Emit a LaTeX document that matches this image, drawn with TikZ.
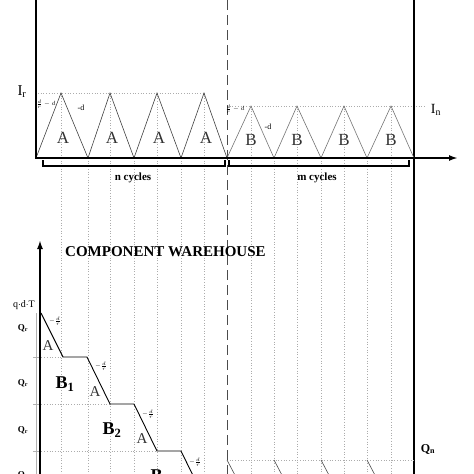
\documentclass[tikz,border=0pt]{standalone}
\usepackage{fontspec}
\setmainfont{Liberation Serif}
\usetikzlibrary{arrows.meta}

\tikzset{
    axisline/.style={line width=2.2pt},
    edge/.style={line width=0.6pt, black!75},
    gridline/.style={gray!65, dotted, line width=0.7pt},
    bracket/.style={line width=1.6pt},
    letter/.style={font=\fontsize{17}{17}\selectfont, black!80},
    bigletter/.style={font=\bfseries\fontsize{18}{18}\selectfont},
    rate/.style={font=\fontsize{6}{6}\selectfont, inner sep=0pt},
    level/.style={font=\bfseries\fontsize{9}{9}\selectfont, inner sep=0pt},
}

\begin{document}
\begin{tikzpicture}[x=1pt, y=-1pt]
    \useasboundingbox (0,0) rectangle (474,474);
    \clip (0,0) rectangle (474,474);

    % vertical guides under peaks and valleys
    \foreach \x in {61,110,157,204} {
        \draw[gridline] (\x,93) -- (\x,474);
    }
    \foreach \x in {251,297,344,391} {
        \draw[gridline] (\x,106) -- (\x,474);
    }
    \foreach \x in {88,134,181,274,321,367} {
        \draw[gridline] (\x,158) -- (\x,474);
    }
    \draw[gridline] (38,93) -- (204,93);
    \draw[gridline] (227,106) -- (425,106);

    % split between the two phases
    \draw[black!70, line width=0.9pt, dash pattern=on 10pt off 5pt] (227,0) -- (227,474);
    \draw[line width=1.2pt] (414,0) -- (414,474);

    % finished product cycles
    \foreach \a/\p/\b [count=\i] in {36/61/88, 88/110/134, 134/157/181, 181/204/227} {
        \draw[edge] (\a,158) -- (\p,93) -- (\b,158);
        \node[letter] (A\i) at (\p+2,138) {A};
    }
    \foreach \a/\p/\b [count=\i] in {227/251/274, 274/297/321, 321/344/367, 367/391/414} {
        \draw[edge, black!55] (\a,158) -- (\p,106) -- (\b,158);
        \node[letter] (B\i) at (\p,140) {B};
    }

    \draw[axisline] (36,0) -- (36,159);
    \draw[line width=2pt, -{Latex[length=9pt, width=6pt]}] (35,158) -- (458,158);

    \node[font=\fontsize{15}{15}\selectfont] (Ir) at (22,92) {I\textsubscript{r}};
    \node[font=\fontsize{14}{14}\selectfont] (In) at (436,110) {I\textsubscript{n}};
    \node[rate] (ra) at (46,104) {$\frac{d}{r}-d$};
    \node[rate, font=\fontsize{8}{8}\selectfont] (da) at (81,108) {-d};
    \node[rate] (rb) at (235,109) {$\frac{d}{r}-d$};
    \node[rate, font=\fontsize{8}{8}\selectfont] (db) at (268,127) {-d};

    % cycle counts
    \draw[bracket] (43,160) -- (43,166) -- (225,166) -- (225,160);
    \draw[bracket] (229,160) -- (229,166) -- (409,166) -- (409,160);
    \node[level, font=\bfseries\fontsize{11}{11}\selectfont] (ncyc) at (133,178) {n cycles};
    \node[level, font=\bfseries\fontsize{11}{11}\selectfont] (mcyc) at (317,178) {m cycles};

    % component warehouse
    \node[font=\bfseries\fontsize{15}{15}\selectfont, inner sep=0pt, anchor=west] (cw) at (65,252) {COMPONENT WAREHOUSE};

    \draw[gray!60, line width=0.8pt] (36,313) -- (36,474);
    \foreach \y in {357,404,451} {
        \draw[gray!60, line width=0.8pt] (33,\y) -- (40,\y);
    }
    \draw[gridline] (36,357) -- (63,357);
    \draw[gridline] (36,404) -- (110,404);
    \draw[gridline] (36,451) -- (157,451);
    \draw[gridline] (227,460) -- (414,460);

    \draw[edge, line width=0.9pt, black] (41,313) -- (63,357) -- (87,357) -- (110,404) -- (134,404)
        -- (157,451) -- (181,451) -- (204,498);
    \foreach \x in {227,274,321,367} {
        \draw[edge, black!70] (\x,460) -- (\x+9,477);
    }

    \draw[axisline, -{Latex[length=9pt, width=6pt]}] (40,475) -- (40,240);

    \node[font=\fontsize{10}{10}\selectfont, inner sep=0pt] (qdt) at (24,305) {q$\cdot$d$\cdot$T};
    \foreach \y [count=\i] in {328,383,430,475} {
        \node[level] (Q\i) at (23,\y) {Q\textsubscript{r}};
    }
    \node[font=\bfseries\fontsize{12}{12}\selectfont] (Qn) at (428,449) {Q\textsubscript{n}};

    \foreach \x/\y [count=\i] in {55/321, 101/366, 148/414, 195/462} {
        \node[rate] (s\i) at (\x,\y) {$-\frac{d}{r}$};
    }
    \node[letter, font=\fontsize{15}{15}\selectfont] (a1) at (48,346) {A};
    \node[letter, font=\fontsize{15}{15}\selectfont] (a2) at (95,392) {A};
    \node[letter, font=\fontsize{15}{15}\selectfont] (a3) at (142,439) {A};
    \node[bigletter] (b1) at (65,384) {B\textsubscript{1}};
    \node[bigletter] (b2) at (112,430) {B\textsubscript{2}};
    \node[bigletter] (b3) at (160,477) {B\textsubscript{3}};
\end{tikzpicture}
\end{document}
